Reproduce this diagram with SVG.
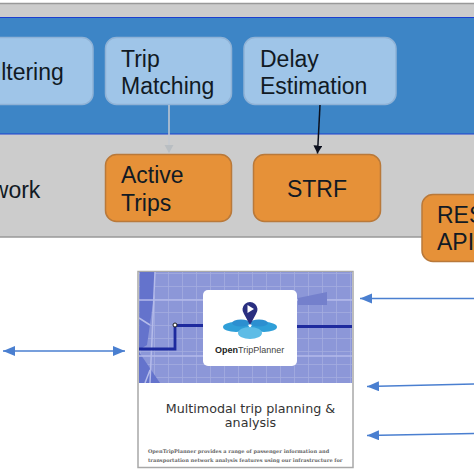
<svg xmlns="http://www.w3.org/2000/svg" width="474" height="474" viewBox="0 0 474 474">
<defs>
<marker id="ag" markerUnits="userSpaceOnUse" markerWidth="9" markerHeight="11" refX="8" refY="4.500" orient="auto"><path d="M0 0L8 4.500L0 9Z" fill="#b9bec2"/></marker>
<marker id="ak" markerUnits="userSpaceOnUse" markerWidth="9" markerHeight="11" refX="8" refY="4.500" orient="auto"><path d="M0 0L8 4.500L0 9Z" fill="#0b0f1c"/></marker>
<marker id="ab" markerUnits="userSpaceOnUse" markerWidth="13" markerHeight="11" refX="12" refY="5" orient="auto-start-reverse"><path d="M0 0L12 5L0 10Z" fill="#4a7fd0"/></marker>
<pattern id="grid" patternUnits="userSpaceOnUse" width="14" height="13"><path d="M0 0.500H14M0.500 0V13" stroke="#a3acdf" stroke-width="0.800" fill="none"/></pattern>
<clipPath id="mapclip"><rect x="139" y="272" width="213" height="111"/></clipPath>
</defs>
<style>
text{font-family:"Liberation Sans",Arial,sans-serif;fill:#111a24;font-size:23px}
.lb{fill:#9fc5e8;stroke:#8fb2d6;stroke-width:1.5}
.or{fill:#e69138;stroke:#b9793a;stroke-width:1.5}
.rd{stroke:#b4bbea;fill:none}
.mt{font-family:"DejaVu Sans",sans-serif;fill:#333;font-size:12.7px;text-anchor:middle}
.bd{font-family:"DejaVu Serif",serif;fill:#666;font-size:5px;font-weight:bold}
.ln{stroke:#4a7fd0;stroke-width:1.5;fill:none}
</style>
<rect width="474" height="474" fill="#fff"/>
<rect id="network-layer" x="-2" y="3.500" width="478" height="233.500" fill="#cccccc" stroke="#999" stroke-width="1.500"/>
<rect id="processing-layer" x="-2" y="17.500" width="478" height="116.500" fill="#3d85c6" stroke="#1c3fd0" stroke-width="1"/>
<text x="-44" y="198" id="network-label">Network</text>
<g id="filtering"><rect class="lb" x="-30" y="37.500" width="123" height="67" rx="11"/><text x="-18" y="80">Filtering</text></g>
<g id="trip-matching"><rect class="lb" x="105.500" y="37.500" width="126" height="67" rx="11"/><text x="121" y="67">Trip</text><text x="121" y="94">Matching</text></g>
<g id="delay-estimation"><rect class="lb" x="244" y="37.500" width="152" height="67" rx="11"/><text x="260" y="67">Delay</text><text x="260" y="94">Estimation</text></g>
<g id="active-trips"><rect class="or" x="105.500" y="154.500" width="126" height="67" rx="11"/><text x="121" y="183">Active</text><text x="121" y="211">Trips</text></g>
<g id="strf"><rect class="or" x="253.500" y="154.500" width="127" height="67" rx="11"/><text x="317" y="197" text-anchor="middle">STRF</text></g>
<g id="rest-api"><rect class="or" x="422" y="194.500" width="70" height="67" rx="11"/><text x="437" y="223">REST</text><text x="437" y="250">API</text></g>
<g id="connectors">
<path d="M169 105V153" stroke="#c4cad2" stroke-width="1.500" fill="none" marker-end="url(#ag)"/>
<path d="M320 105L317.500 153.500" stroke="#0b0f1c" stroke-width="1.500" fill="none" marker-end="url(#ak)"/>
<path class="ln" d="M3 351H125" marker-start="url(#ab)" marker-end="url(#ab)"/>
<path class="ln" d="M476 298.500H360" marker-end="url(#ab)"/>
<path class="ln" d="M476 384L367 386.500" marker-end="url(#ab)"/>
<path class="ln" d="M476 433.500L367 435.500" marker-end="url(#ab)"/>
</g>
<g id="opentripplanner">
<rect x="138" y="271.500" width="215" height="196" fill="#fff" stroke="#a8a8a8" stroke-width="1.500"/>
<g clip-path="url(#mapclip)">
<rect x="139" y="272" width="213" height="111" fill="#8c97d8"/>
<rect x="139" y="272" width="213" height="111" fill="url(#grid)"/>
<path d="M140 272H155V290L152 310L147 345L139 350Z" fill="#6473cc"/>
<path d="M139 352L160 383H139Z" fill="#6473cc"/>
<path class="rd" stroke-width="1.500" d="M139 300H203M297 300H352M139 356H352M155 272L150 383M139 318L150 325M150 370L145 383"/>
<path d="M298 298L327 292V305H298Z" fill="#7480cc"/>
<path d="M139 349H175V325.500H205M297 326.500H352" stroke="#1d2a9e" stroke-width="2.800" fill="none"/>
<circle cx="175" cy="325" r="2" fill="#fff" stroke="#222" stroke-width="1"/>
</g>
<rect x="203" y="290" width="94" height="76" rx="5" fill="#fff"/>
<ellipse cx="236" cy="327" rx="13" ry="5" fill="#2f9fd8"/><ellipse cx="264" cy="327" rx="13" ry="5" fill="#2f9fd8"/>
<ellipse cx="241" cy="323" rx="9" ry="3.500" fill="#2c8fd0"/><ellipse cx="259" cy="323" rx="9" ry="3.500" fill="#2c8fd0"/>
<ellipse cx="250" cy="333" rx="12" ry="6" fill="#5dbce6"/>
<path d="M250 325L244 314A7.500 7.500 0 1 1 256 314Z" fill="#2a2f80"/>
<path d="M247.500 305V313L254 309Z" fill="#fff"/>
<text x="215" y="353" style="font-size:9px;font-weight:bold;fill:#222">Open<tspan style="font-weight:normal;fill:#444">TripPlanner</tspan></text>
<text class="mt" x="250.500" y="413">Multimodal trip planning &amp;</text>
<text class="mt" x="250.500" y="427">analysis</text>
<text class="bd" x="148" y="453">OpenTripPlanner provides a range of passenger information and</text>
<text class="bd" x="148" y="462">transportation network analysis features using our infrastructure for</text>
</g>
</svg>
